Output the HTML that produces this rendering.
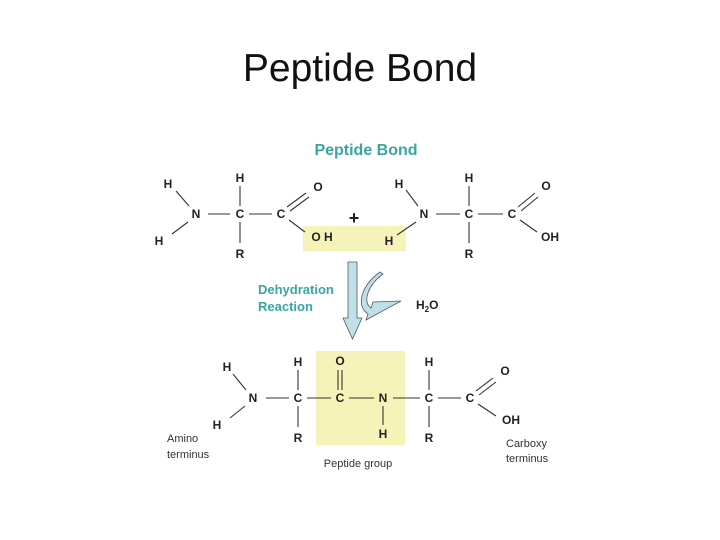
<!DOCTYPE html>
<html><head><style>
html,body{margin:0;padding:0;background:#fff;}
svg{display:block;}
text{font-family:"Liberation Sans",Arial,sans-serif;}
.b{font-weight:bold;font-size:12px;fill:#222;text-anchor:middle;dominant-baseline:central;}
.r{font-size:11px;fill:#333;}
line,path.l{stroke:#333;stroke-width:1.1;fill:none;}
</style></head><body>
<svg width="720" height="540" viewBox="0 0 720 540">
<text x="360" y="81" font-size="39" text-anchor="middle" fill="#111">Peptide Bond</text>
<text x="366" y="155" font-size="16" font-weight="bold" text-anchor="middle" fill="#3aa6a0">Peptide Bond</text>

<rect x="303" y="226" width="103" height="25" fill="#f6f3b8"/>
<text class="b" x="168" y="184">H</text>
<text class="b" x="196" y="214">N</text>
<text class="b" x="159" y="241">H</text>
<text class="b" x="240" y="214">C</text>
<text class="b" x="240" y="178">H</text>
<text class="b" x="240" y="254">R</text>
<text class="b" x="281" y="214">C</text>
<text class="b" x="318" y="187">O</text>
<text class="b" x="322" y="237">O H</text>
<line x1="176" y1="191" x2="189" y2="206"/>
<line x1="172" y1="234" x2="188" y2="222"/>
<line x1="208" y1="214" x2="230" y2="214"/>
<line x1="249" y1="214" x2="272" y2="214"/>
<line x1="240" y1="186" x2="240" y2="206"/>
<line x1="240" y1="222" x2="240" y2="243"/>
<line x1="287" y1="207" x2="306" y2="193"/>
<line x1="290" y1="211" x2="309" y2="197"/>
<line x1="289" y1="220" x2="305" y2="232"/>
<text x="354" y="224" font-size="18" font-weight="bold" text-anchor="middle" fill="#222">+</text>
<text class="b" x="389" y="241">H</text>
<text class="b" x="399" y="184">H</text>
<text class="b" x="424" y="214">N</text>
<text class="b" x="469" y="214">C</text>
<text class="b" x="469" y="178">H</text>
<text class="b" x="469" y="254">R</text>
<text class="b" x="512" y="214">C</text>
<text class="b" x="546" y="186">O</text>
<text class="b" x="550" y="237">OH</text>
<line x1="406" y1="190" x2="418" y2="206"/>
<line x1="397" y1="235" x2="416" y2="222"/>
<line x1="436" y1="214" x2="460" y2="214"/>
<line x1="478" y1="214" x2="503" y2="214"/>
<line x1="469" y1="186" x2="469" y2="206"/>
<line x1="469" y1="222" x2="469" y2="243"/>
<line x1="518" y1="207" x2="535" y2="193"/>
<line x1="521" y1="211" x2="538" y2="197"/>
<line x1="520" y1="220" x2="537" y2="232"/>

<path d="M348 262 L357 262 L357 318 L362 318 L352.5 339 L343 318 L348 318 Z" fill="#bfe0e6" stroke="#556" stroke-width="0.8"/>
<path d="M380 272 C 362 285, 355 305, 368 314 L366 320 L401 301 L373 302 L371 308 C 362 302, 368 285, 383 274 Z" fill="#bfe0e6" stroke="#556" stroke-width="0.8"/>
<text x="258" y="294" font-size="13" font-weight="bold" fill="#3aa6a0">Dehydration</text>
<text x="258" y="311" font-size="13" font-weight="bold" fill="#3aa6a0">Reaction</text>
<text x="416" y="309" font-size="12" font-weight="bold" fill="#222">H<tspan font-size="8" dy="3">2</tspan><tspan dy="-3">O</tspan></text>

<rect x="316" y="351" width="89" height="94" fill="#f6f3b8"/>
<text class="b" x="227" y="367">H</text>
<text class="b" x="253" y="398">N</text>
<text class="b" x="217" y="425">H</text>
<text class="b" x="298" y="398">C</text>
<text class="b" x="298" y="362">H</text>
<text class="b" x="298" y="438">R</text>
<text class="b" x="340" y="361">O</text>
<text class="b" x="340" y="398">C</text>
<text class="b" x="383" y="398">N</text>
<text class="b" x="383" y="434">H</text>
<text class="b" x="429" y="398">C</text>
<text class="b" x="429" y="362">H</text>
<text class="b" x="429" y="438">R</text>
<text class="b" x="470" y="398">C</text>
<text class="b" x="505" y="371">O</text>
<text class="b" x="511" y="420">OH</text>
<line x1="233" y1="374" x2="246" y2="390"/>
<line x1="230" y1="418" x2="245" y2="406"/>
<line x1="266" y1="398" x2="289" y2="398"/>
<line x1="307" y1="398" x2="331" y2="398"/>
<line x1="349" y1="398" x2="374" y2="398"/>
<line x1="393" y1="398" x2="420" y2="398"/>
<line x1="438" y1="398" x2="461" y2="398"/>
<line x1="298" y1="370" x2="298" y2="390"/>
<line x1="298" y1="406" x2="298" y2="427"/>
<line x1="429" y1="370" x2="429" y2="390"/>
<line x1="429" y1="406" x2="429" y2="427"/>
<line x1="338" y1="370" x2="338" y2="390"/>
<line x1="342" y1="370" x2="342" y2="390"/>
<line x1="383" y1="406" x2="383" y2="425"/>
<line x1="476" y1="391" x2="493" y2="378"/>
<line x1="479" y1="395" x2="496" y2="382"/>
<line x1="478" y1="404" x2="496" y2="416"/>
<text class="r" x="167" y="442">Amino</text>
<text class="r" x="167" y="458">terminus</text>
<text class="r" x="358" y="467" text-anchor="middle" font-size="12">Peptide group</text>
<text class="r" x="506" y="447">Carboxy</text>
<text class="r" x="506" y="462">terminus</text>
</svg>
</body></html>
